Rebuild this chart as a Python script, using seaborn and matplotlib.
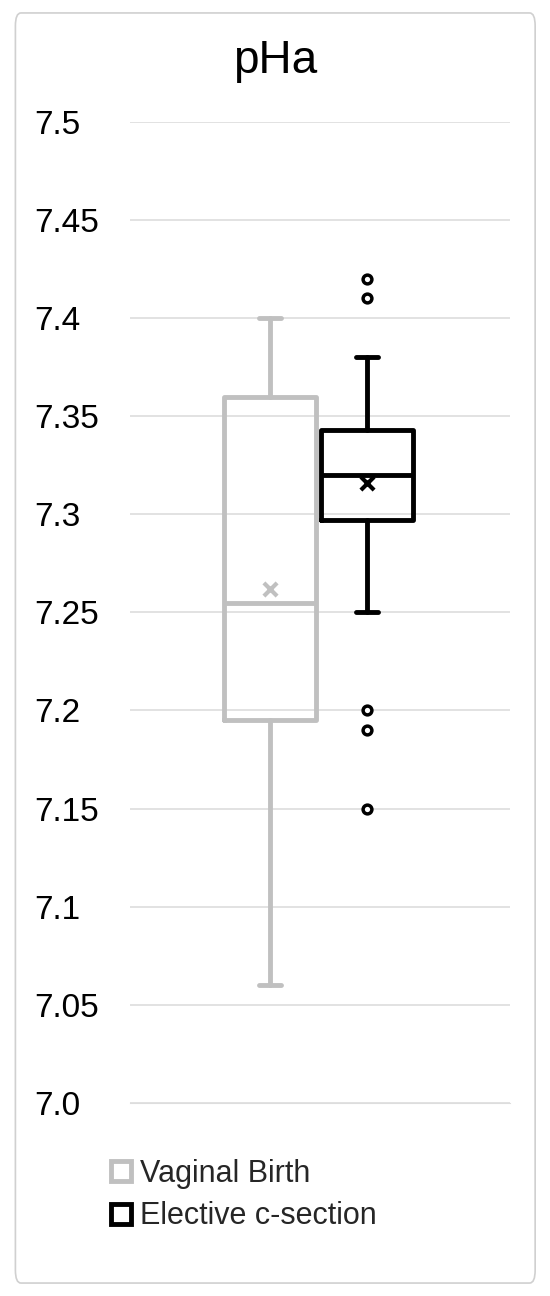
import matplotlib
matplotlib.use("Agg")
import matplotlib.pyplot as plt
import seaborn as sns
from matplotlib.patches import FancyBboxPatch
from matplotlib.lines import Line2D

groups = ["Vaginal Birth", "Elective c-section"]
colors = ["#c0c0c0", "#000000"]
whislo = [7.06, 7.25]
q1 = [7.195, 7.297]
med = [7.255, 7.32]
q3 = [7.36, 7.343]
whishi = [7.40, 7.38]
means = [7.262, 7.316]
fliers = [[], [7.42, 7.41, 7.20, 7.19, 7.15]]
yticks = [7.0, 7.05, 7.1, 7.15, 7.2, 7.25, 7.3, 7.35, 7.4, 7.45, 7.5]
yticklabels = ["7.0", "7.05", "7.1", "7.15", "7.2", "7.25", "7.3", "7.35", "7.4", "7.45", "7.5"]

sns.set_style("white")
plt.rcParams['font.family'] = ['Liberation Sans', 'DejaVu Sans']
fig = plt.figure(figsize=(5.5, 12.96), dpi=100)
fig.patches.append(FancyBboxPatch((0.028, 0.01), 0.945, 0.98, boxstyle="round,pad=0,rounding_size=0.01",
                                  transform=fig.transFigure, fill=False, ec="#d0d0d0", lw=1.2))
ax = fig.add_axes([0.236, 0.149, 0.691, 0.757])
positions = [1.4, 2.37]
for i in range(2):
    st = [dict(whislo=whislo[i], q1=q1[i], med=med[i], q3=q3[i], whishi=whishi[i], fliers=[], label=groups[i])]
    c = colors[i]
    ax.bxp(st, positions=[positions[i]], widths=0.92, showfliers=False,
           boxprops=dict(color=c, lw=3.5), medianprops=dict(color=c, lw=3.5),
           whiskerprops=dict(color=c, lw=3.5), capprops=dict(color=c, lw=3.5), capwidths=0.22)
    sns.scatterplot(x=[positions[i]], y=[means[i]], marker="x", color=c, s=90, linewidth=3, ax=ax, zorder=5)
    if fliers[i]:
        sns.scatterplot(x=[positions[i]] * len(fliers[i]), y=fliers[i], marker="o", facecolor="white",
                        edgecolor=c, linewidth=2.5, s=40, ax=ax, zorder=5)
ax.set_xlim(0, 3.8)
ax.set_ylim(7.0, 7.5)
ax.set_yticks(yticks)
ax.set_yticklabels(yticklabels, fontsize=24, color="black")
ax.set_xticks([])
ax.yaxis.grid(True, color="#dddddd", lw=1.2)
for s in ["top", "right", "left"]:
    ax.spines[s].set_visible(False)
ax.spines["bottom"].set_color("#dddddd")
ax.tick_params(axis="y", length=0, pad=69)
for l in ax.get_yticklabels():
    l.set_horizontalalignment("left")
fig.text(0.5, 0.953, "pHa", ha="center", va="center", fontsize=33, color="black")
handles = [Line2D([], [], marker="s", ls="", markersize=14, markerfacecolor="white",
                  markeredgecolor=c, markeredgewidth=3.5) for c in colors]
fig.legend(handles, groups, loc="upper left", bbox_to_anchor=(0.165, 0.115), frameon=False,
           fontsize=22, handletextpad=0.0, labelspacing=0.4, borderaxespad=0, handlelength=1.2)
fig.savefig("out.png", dpi=100)
